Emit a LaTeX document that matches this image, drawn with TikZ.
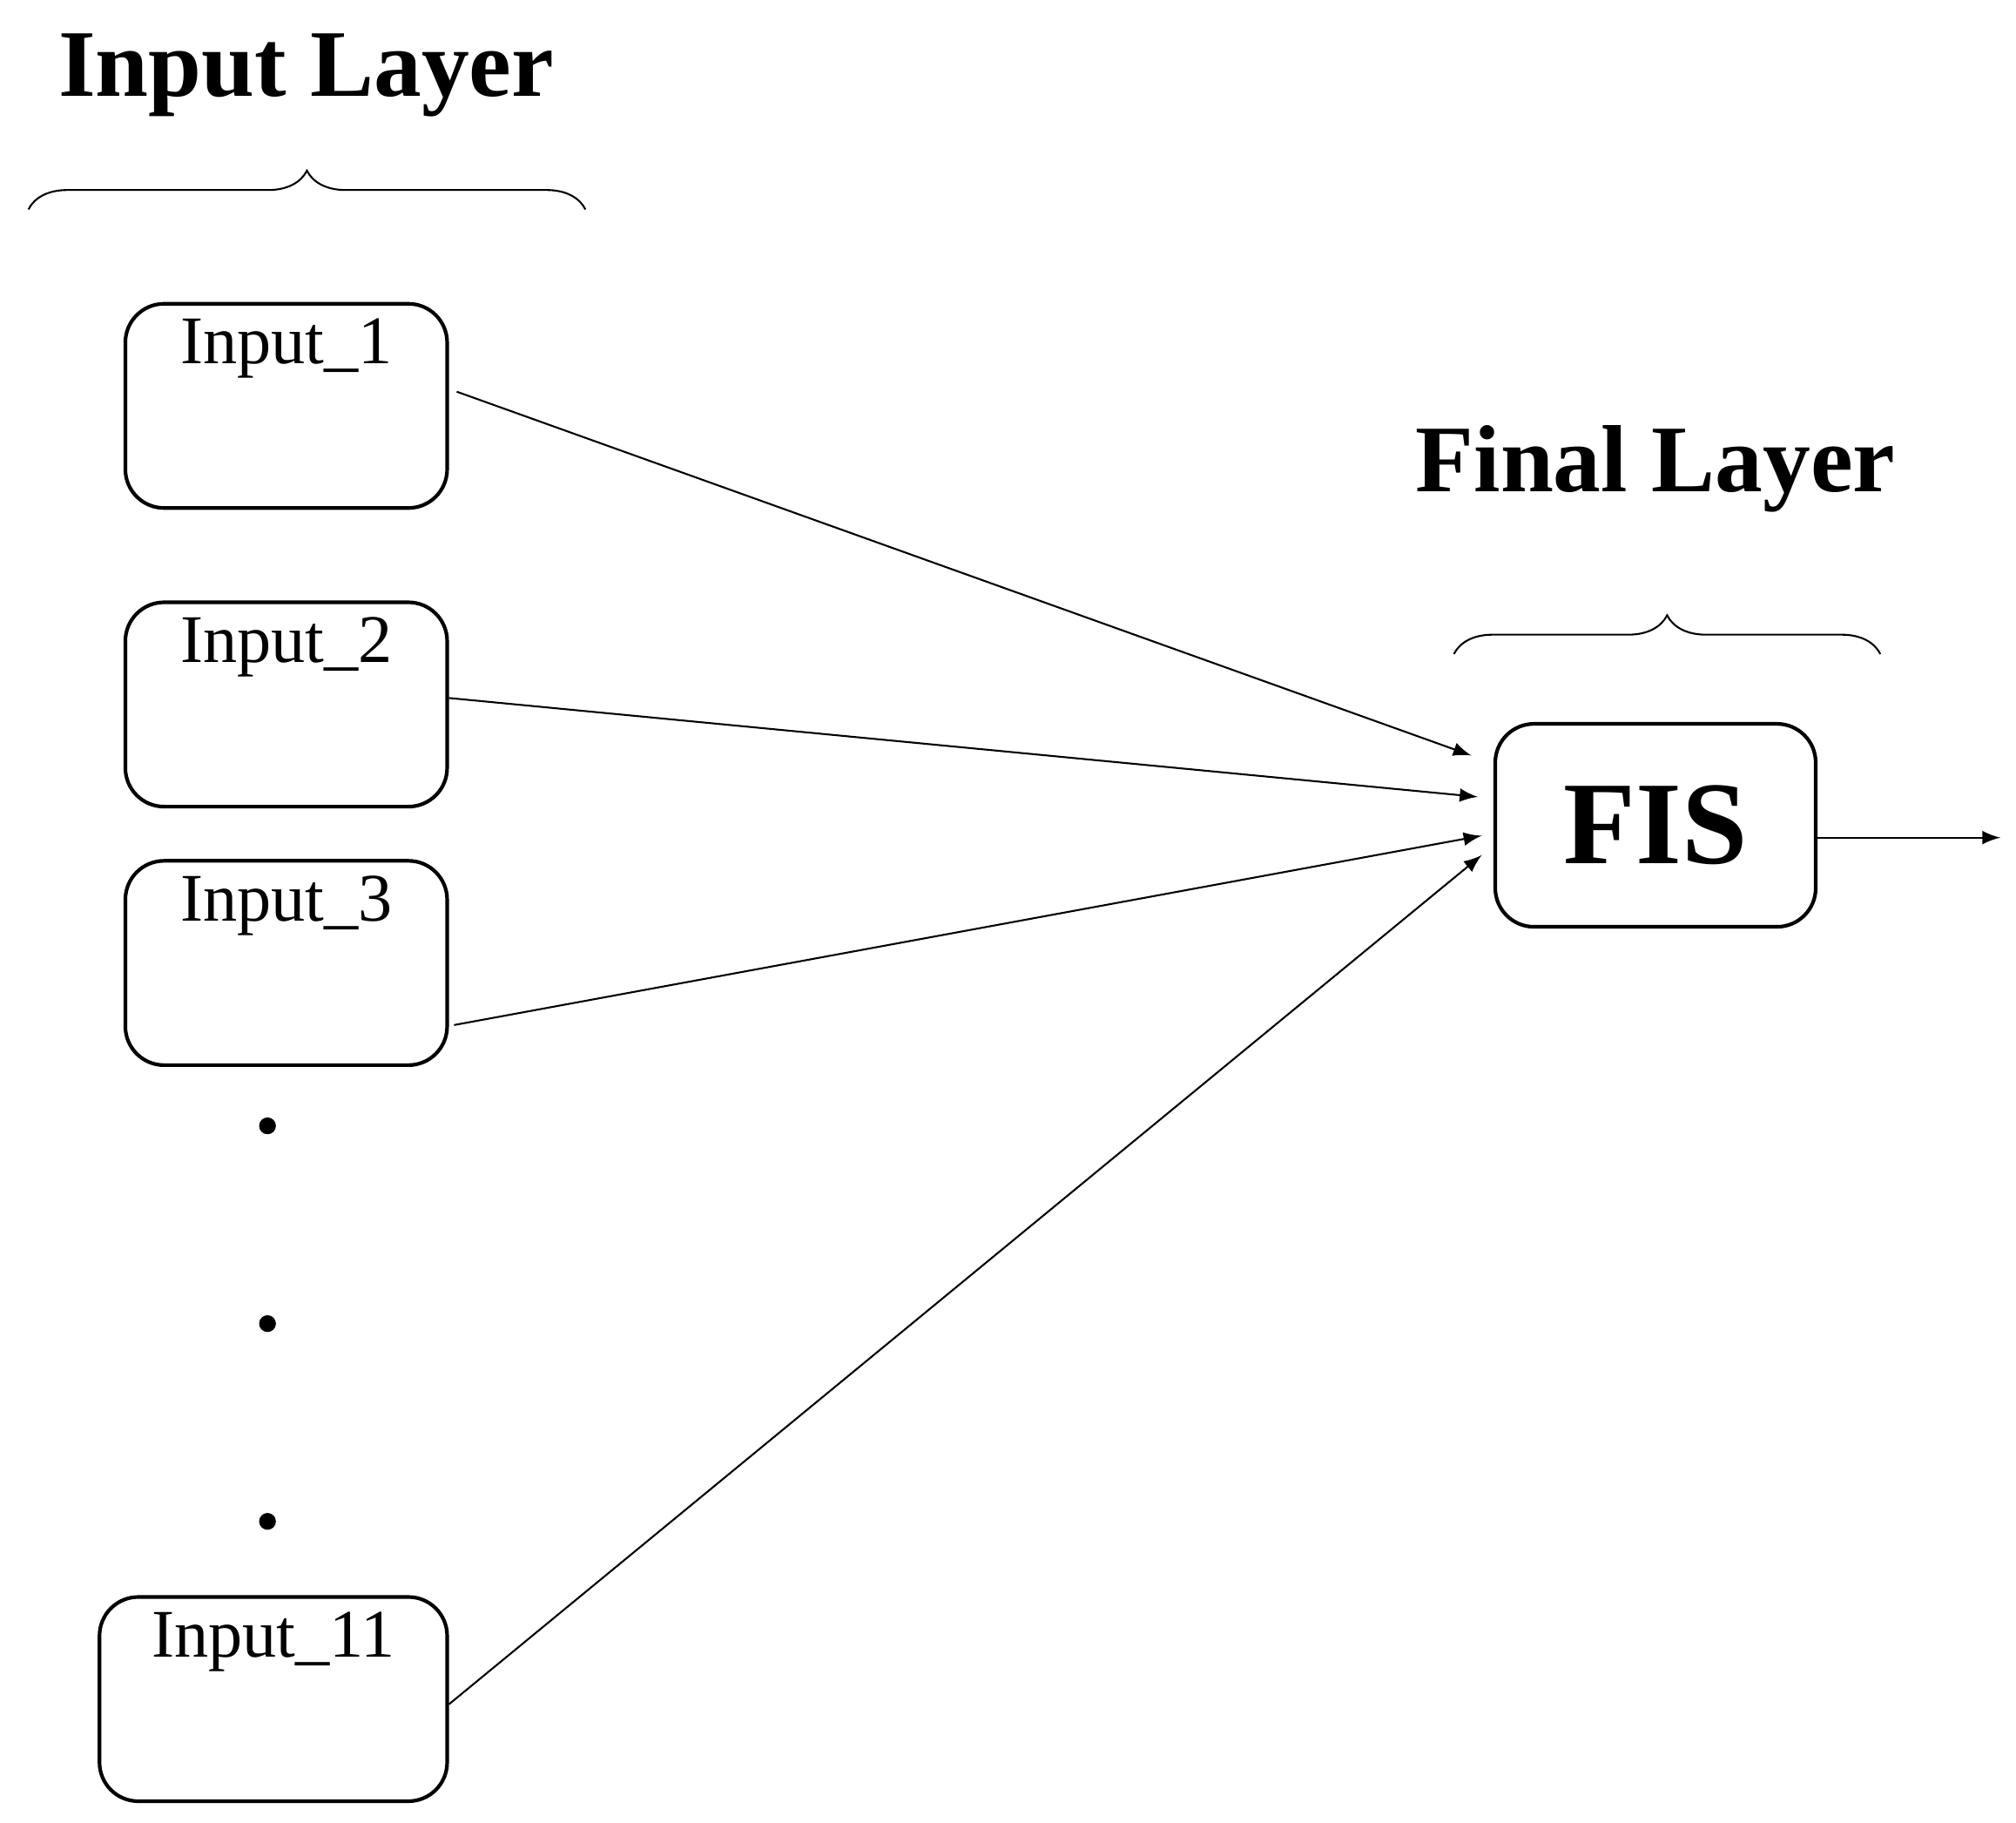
\documentclass[tikz,border=0pt]{standalone}
\usepackage{fontspec}
\setmainfont{Liberation Serif}
\usetikzlibrary{shapes,arrows,positioning,calc,decorations.pathreplacing}

\begin{document}
\begin{tikzpicture}[
    input-box/.style={rectangle, rounded corners=0.3cm, draw, thick, minimum width=2.49cm, minimum height=1.58cm, align=center, font=\fontsize{15}{17}\selectfont},
    fis-box/.style={rectangle, rounded corners=0.3cm, draw, thick, minimum width=2.48cm, minimum height=1.57cm, align=center, font=\fontsize{26}{28}\selectfont\bfseries},
    layer-title/.style={align=center, font=\fontsize{21}{24}\selectfont\bfseries},
    layer-brace/.style={decorate, decoration={brace, amplitude=0.3cm}, thin},
    feed-arrow/.style={-latex, thin},
    dot/.style={circle, fill=black, inner sep=0pt, minimum size=0.13cm}
]
\useasboundingbox (0,0) rectangle (15.6,-14.1);

% Input layer
\node[input-box] (in1) at (2.215,-3.14) {Input\_1\\[0.4cm]};
\node[input-box] (in2) at (2.215,-5.45) {Input\_2\\[0.4cm]};
\node[input-box] (in3) at (2.215,-7.45) {Input\_3\\[0.4cm]};
\node[input-box, minimum width=2.69cm] (in11) at (2.115,-13.145) {Input\_11\\[0.4cm]};

% Dots
\node[dot] (d1) at (2.07,-8.71) {};
\node[dot] (d2) at (2.07,-10.24) {};
\node[dot] (d3) at (2.07,-11.77) {};

% Final layer
\node[fis-box] (fis) at (12.81,-6.385) {FIS};
\coordinate (out) at (15.48,-6.48);

% Titles and braces
\node[layer-title] (t-in) at (2.37,-0.58) {Input Layer};
\node[layer-title] (t-fin) at (12.81,-3.63) {Final Layer};
\coordinate (b-in-l) at (0.22,-1.62);
\coordinate (b-in-r) at (4.53,-1.62);
\coordinate (b-fin-l) at (11.25,-5.06);
\coordinate (b-fin-r) at (14.55,-5.06);
\draw[layer-brace] (b-in-l) -- (b-in-r);
\draw[layer-brace] (b-fin-l) -- (b-fin-r);

% Connections
\draw[feed-arrow] ($(in1.east)+(0.06,0.11)$) -- ($(fis.west)+(-0.17,0.54)$);
\draw[feed-arrow] ($(in2.east)+(0,0.05)$) -- ($(fis.west)+(-0.12,0.22)$);
\draw[feed-arrow] ($(in3.east)+(0.04,-0.48)$) -- ($(fis.west)+(-0.09,-0.08)$);
\draw[feed-arrow] ($(in11.east)+(0,-0.04)$) -- ($(fis.west)+(-0.09,-0.23)$);
\draw[feed-arrow] (fis.east |- out) -- (out);

\end{tikzpicture}
\end{document}
